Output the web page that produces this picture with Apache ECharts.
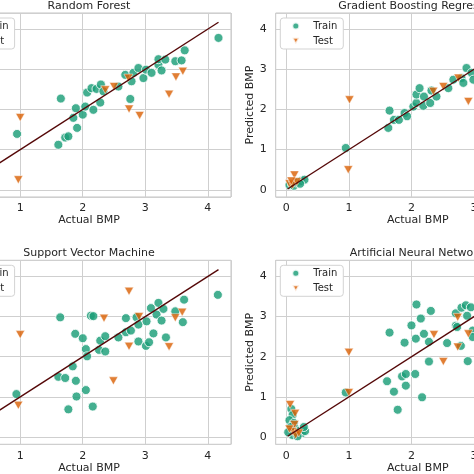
<!DOCTYPE html>
<html>
<head>
<meta charset="utf-8">
<script src="https://cdn.jsdelivr.net/npm/echarts@6/dist/echarts.min.js"></script>
<style>html,body{margin:0;padding:0;background:#fff;}#c{width:474px;height:474px;}</style>
</head>
<body>
<div id="c"></div>
<script>
// ---- data (Actual BMP, Predicted BMP) ----
const panelTitles = ['Random Forest', 'Gradient Boosting Regressor', 'Support Vector Machine', 'Artificial Neural Network'];
const xTickValues = [0, 1, 2, 3, 4];
const yTickValues = [0, 1, 2, 3, 4];
const idealLine = [0.02, 4.17];

const rfTrain = [[0.05,0.2],[0.1,0.22],[0.15,0.25],[0.2,0.24],[0.25,0.28],[0.3,0.3],
  [0.95,1.39],[1.61,1.12],[1.65,2.27],[1.72,1.30],[1.77,1.33],[1.85,1.79],[1.89,2.03],[1.91,1.54],
  [2.0,1.87],[2.04,2.07],[2.07,2.42],[2.14,2.53],[2.17,1.99],[2.22,2.51],[2.28,2.17],[2.29,2.62],
  [2.33,2.45],[2.57,2.57],[2.68,2.86],[2.76,2.26],[2.78,2.70],[2.81,2.91],[2.89,3.03],[2.97,2.78],
  [3.01,2.99],[3.10,2.91],[3.21,3.11],[3.21,3.25],[3.26,2.97],[3.32,3.24],[3.48,3.20],[3.58,3.22],
  [3.63,3.47],[4.17,3.78]];
const rfTest = [[0.05,0.3],[0.15,0.2],[0.97,0.25],[1.0,1.80],[2.36,2.49],[2.50,2.57],[2.73,2.78],
  [2.74,2.01],[2.91,1.85],[3.38,2.38],[3.49,2.81],[3.60,2.95]];

const gbTrain = [[0.05,0.12],[0.09,0.14],[0.12,0.1],[0.16,0.18],[0.2,0.2],[0.24,0.22],[0.29,0.25],[0.22,0.15],
  [0.95,1.04],[1.63,1.54],[1.65,1.97],[1.72,1.74],[1.80,1.74],[1.89,1.91],[1.93,1.83],[2.03,2.07],
  [2.08,2.16],[2.08,2.37],[2.13,2.53],[2.19,2.09],[2.20,2.32],[2.30,2.16],[2.32,2.47],[2.40,2.32],
  [2.59,2.53],[2.67,2.74],[2.80,2.78],[2.83,2.66],[2.88,3.03],[2.96,2.91],[2.99,2.74],
  [3.1,3.05],[3.2,3.15],[3.3,3.2],[3.5,3.35],[3.6,3.5],[4.17,4.0]];
const gbTest = [[0.05,0.15],[0.1,0.12],[0.13,0.37],[0.17,0.2],[0.08,0.22],[0.99,0.50],[1.01,2.24],
  [2.35,2.45],[2.51,2.57],[2.75,2.78],[2.91,2.20],[3.4,3.0],[3.5,3.3],[3.6,3.4]];

const svmTrain = [[0.05,0.3],[0.1,0.35],[0.2,0.4],[0.3,0.45],
  [0.94,1.07],[1.61,1.50],[1.64,2.98],[1.72,1.47],[1.77,0.69],[1.84,1.76],[1.88,2.57],[1.89,1.40],
  [1.90,1.01],[2.0,2.46],[2.05,2.19],[2.05,1.17],[2.07,2.01],[2.13,3.02],[2.17,3.01],[2.16,0.76],
  [2.26,2.17],[2.28,2.40],[2.36,2.51],[2.36,2.13],[2.57,2.48],[2.69,2.61],[2.69,2.96],[2.77,2.65],
  [2.86,2.98],[2.89,2.80],[2.89,2.38],[3.01,2.27],[3.02,2.88],[3.06,2.36],[3.09,3.21],[3.13,2.58],
  [3.18,3.05],[3.21,3.34],[3.26,2.90],[3.29,3.19],[3.33,2.48],[3.48,3.13],[3.60,2.86],[3.62,3.42],
  [4.16,3.54]];
const svmTest = [[0.1,0.4],[0.2,0.35],[0.97,0.79],[1.0,2.55],[2.34,2.96],[2.49,1.40],[2.74,3.63],
  [2.74,2.26],[2.90,3.0],[3.38,2.25],[3.48,2.97],[3.59,3.11]];

const annTrain = [[0.08,0.7],[0.1,0.55],[0.05,0.42],[0.12,0.35],[0.07,0.25],[0.15,0.2],[0.2,0.15],
  [0.25,0.1],[0.3,0.15],[0.1,0.05],[0.18,0.02],[0.28,0.25],[0.03,0.12],
  [0.95,1.11],[1.61,1.39],[1.65,2.60],[1.72,1.13],[1.78,0.68],[1.85,1.51],[1.91,1.57],[1.91,1.28],
  [1.89,2.35],[2.0,2.78],[2.06,1.57],[2.07,2.45],[2.08,3.30],[2.15,2.95],[2.17,0.99],[2.20,2.57],
  [2.28,1.88],[2.28,2.37],[2.31,3.14],[2.57,2.34],[2.71,2.77],[2.71,3.08],[2.73,2.74],[2.79,2.27],
  [2.80,3.22],[2.87,3.28],[2.90,1.89],[2.89,3.02],[2.95,3.23],[2.98,2.65],[2.98,2.49],
  [3.2,3.3],[3.5,3.1],[4.17,3.6]];
const annTest = [[0.06,0.81],[0.14,0.59],[0.13,0.31],[0.1,0.14],[0.05,0.2],[0.15,0.05],[0.2,0.1],
  [1.0,2.11],[1.0,1.11],[2.36,2.55],[2.51,1.88],[2.74,2.98],[2.74,2.24],[2.91,2.57]];

const trainSets = [rfTrain, gbTrain, svmTrain, annTrain];
const testSets = [rfTest, gbTest, svmTest, annTest];

// ---- layout ----
const FONT = 'DejaVu Sans';
const TXT = '#262626';
const X_MIN = -0.17, X_MAX = 4.37, Y_MIN = -0.18, Y_MAX = 4.4;
const layouts = [
  {left: -53, top: 13, titleX: 89, titleY: 1},
  {left: 275.7, top: 13, titleX: 417, titleY: 1},
  {left: -53, top: 260.3, titleX: 89, titleY: 248},
  {left: 275.7, top: 260.3, titleX: 417, titleY: 248}
];
const W = 284, H = 184;

const isInt = v => Math.abs(v - Math.round(v)) < 1e-6;
const fmt = v => (isInt(v) && xTickValues.indexOf(Math.round(v)) >= 0) ? String(Math.round(v)) : '';
const fmtY = v => (isInt(v) && yTickValues.indexOf(Math.round(v)) >= 0) ? String(Math.round(v)) : '';

const grid = [], xAxis = [], yAxis = [], series = [], title = [], legend = [];
layouts.forEach((L, i) => {
  grid.push({left: L.left, top: L.top, width: W, height: H, show: true,
    outerBoundsMode: 'none', containLabel: false,
    borderColor: '#c4c4c4', borderWidth: 1, backgroundColor: 'transparent'});
  xAxis.push({gridIndex: i, type: 'value', min: X_MIN, max: X_MAX,
    name: 'Actual BMP', nameLocation: 'middle', nameGap: 18,
    nameTextStyle: {fontFamily: FONT, fontSize: 11, color: TXT},
    axisLine: {show: false}, axisTick: {show: false},
    axisLabel: {formatter: fmt, margin: 6, fontFamily: FONT, fontSize: 11, color: TXT, showMinLabel: true, showMaxLabel: true},
    splitLine: {show: true, lineStyle: {color: '#cfcfcf', width: 1}}});
  yAxis.push({gridIndex: i, type: 'value', min: Y_MIN, max: Y_MAX,
    name: 'Predicted BMP', nameLocation: 'middle', nameGap: 20, nameMoveOverlap: false,
    nameTextStyle: {fontFamily: FONT, fontSize: 11, color: TXT},
    axisLine: {show: false}, axisTick: {show: false},
    axisLabel: {formatter: fmtY, margin: 9, fontFamily: FONT, fontSize: 11, color: TXT},
    splitLine: {show: true, lineStyle: {color: '#cfcfcf', width: 1}}});
  title.push({text: panelTitles[i], left: L.titleX, top: L.titleY, textAlign: 'center', padding: 0,
    textStyle: {fontFamily: FONT, fontSize: 11, fontWeight: 'normal', color: TXT}});
  legend.push({left: L.left + 4.6, top: L.top + 5, orient: 'vertical', z: 10,
    itemWidth: 7, itemHeight: 7, itemGap: 3, padding: [2, 6, 2, 11],
    backgroundColor: '#ffffff', borderColor: '#d3d3d3', borderWidth: 1, borderRadius: 3,
    textStyle: {fontFamily: FONT, fontSize: 10, color: TXT, lineHeight: 12, padding: [0, 0, 0, 9]},
    data: [{name: 'Train', icon: 'circle'}, {name: 'Test', icon: 'path://M0,0L10,0L5,9Z'}]});
  series.push({name: 'Train', type: 'scatter', xAxisIndex: i, yAxisIndex: i, data: trainSets[i],
    symbol: 'circle', symbolSize: 9,
    itemStyle: {color: '#1b9e77', opacity: 0.82, borderColor: '#ffffff', borderWidth: 1}});
  series.push({name: 'Test', type: 'scatter', xAxisIndex: i, yAxisIndex: i, data: testSets[i],
    symbol: 'triangle', symbolRotate: 180, symbolSize: [9, 8],
    itemStyle: {color: '#d95f02', opacity: 0.8, borderColor: '#ffffff', borderWidth: 0.6}});
  series.push({name: 'ideal', type: 'line', xAxisIndex: i, yAxisIndex: i, z: 5, silent: true,
    data: [[idealLine[0], idealLine[0]], [idealLine[1], idealLine[1]]],
    showSymbol: false, symbol: 'none', lineStyle: {color: '#550808', width: 1.4}});
});

const chart = echarts.init(document.getElementById('c'), null, {renderer: 'canvas'});
chart.setOption({animation: false, backgroundColor: '#ffffff', title, legend, grid, xAxis, yAxis, series});
</script>
</body>
</html>
